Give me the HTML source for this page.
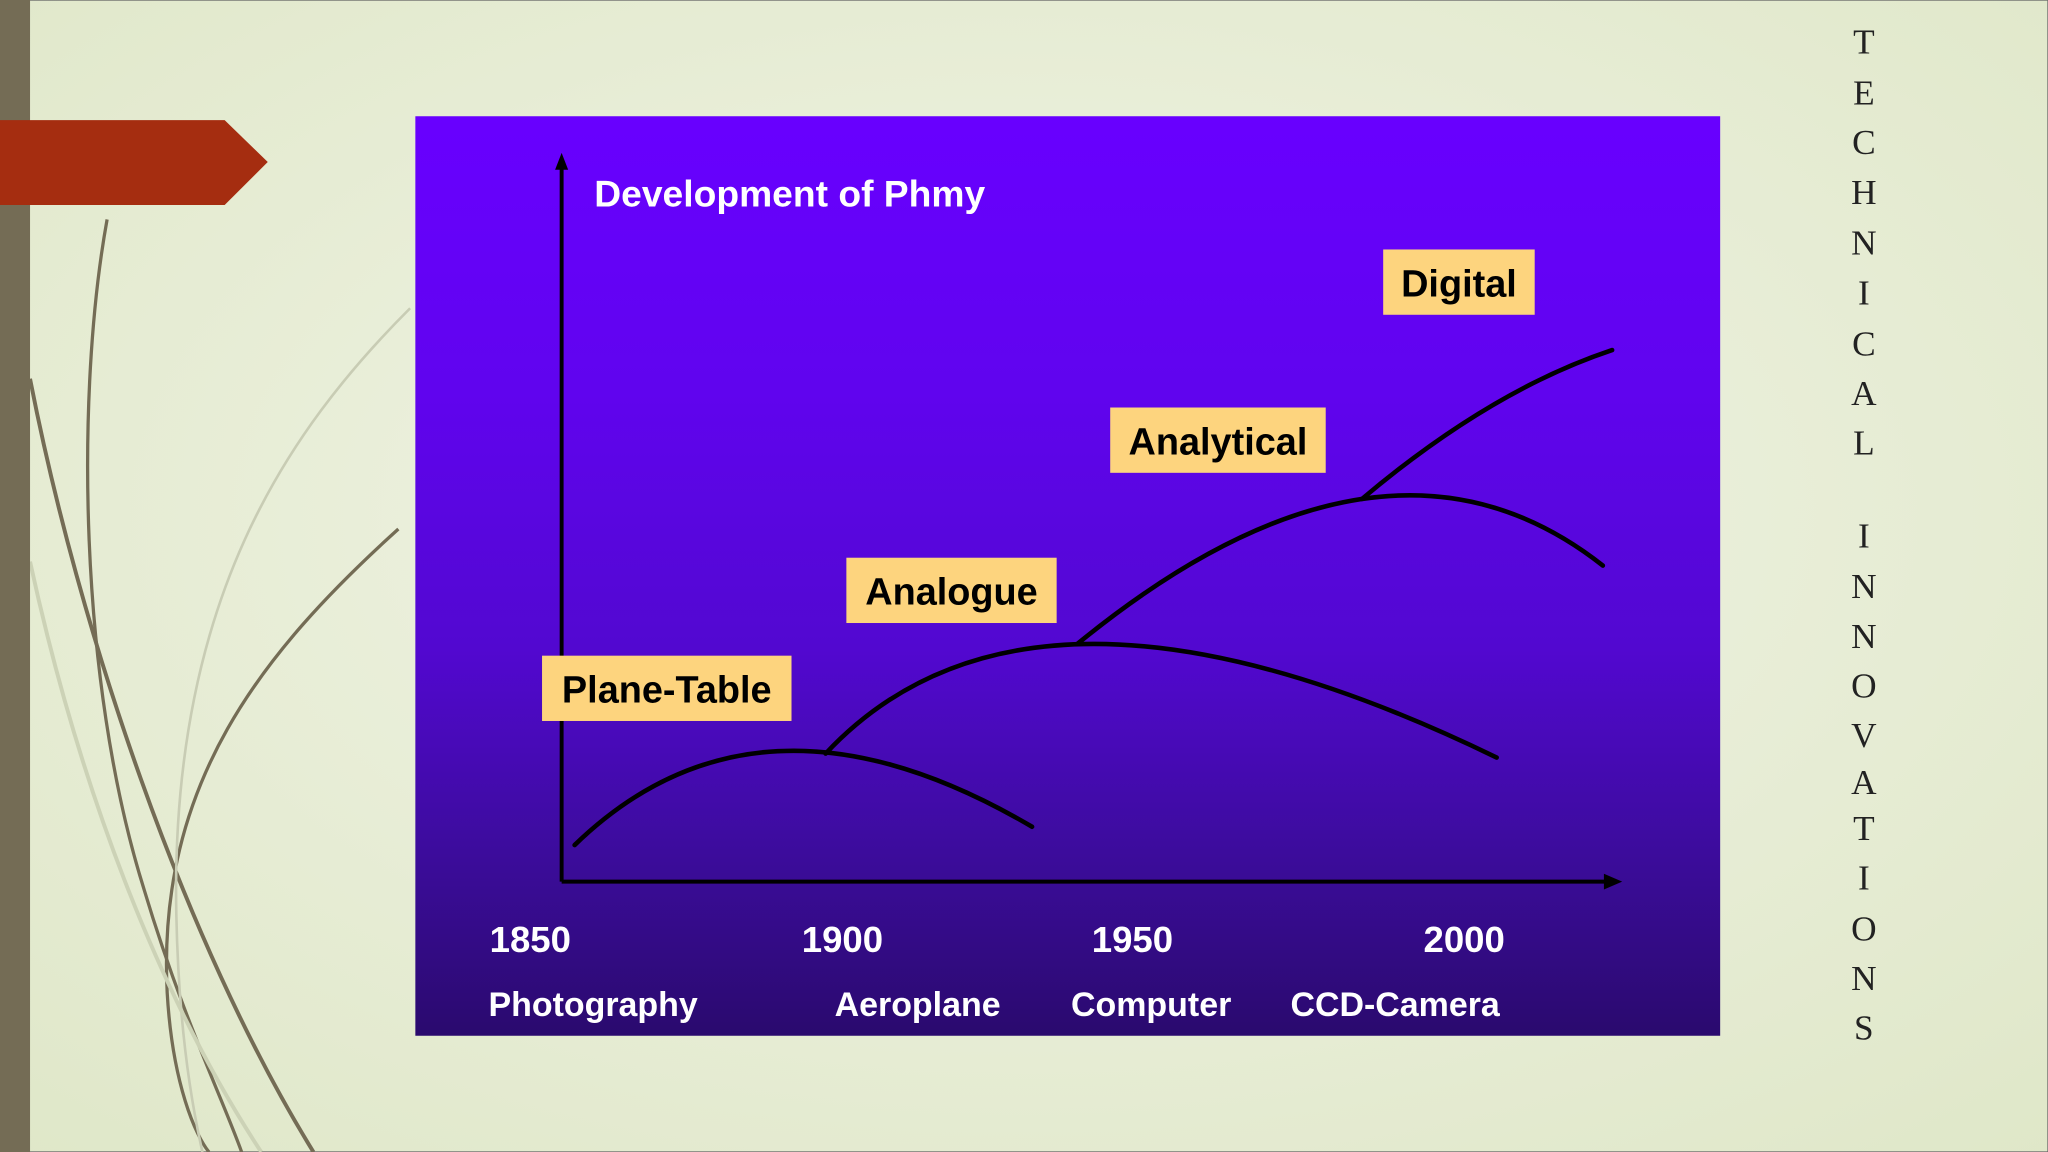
<!DOCTYPE html>
<html><head><meta charset="utf-8"><style>
html,body{margin:0;padding:0;width:2048px;height:1152px;overflow:hidden;}
svg{display:block;}
</style></head><body>
<svg width="2048" height="1152" viewBox="0 0 1568 882" xmlns="http://www.w3.org/2000/svg">
<defs>
<radialGradient id="bg" cx="0.5" cy="0.45" r="0.75">
<stop offset="0" stop-color="#f1f4e6"/><stop offset="1" stop-color="#dfe7c8"/>
</radialGradient>
<linearGradient id="blue" x1="0" y1="0" x2="0" y2="1">
<stop offset="0" stop-color="#6800ff"/>
<stop offset="0.3" stop-color="#6004ee"/>
<stop offset="0.58" stop-color="#5208d0"/>
<stop offset="0.8" stop-color="#3c0c9c"/>
<stop offset="1" stop-color="#2a0a6e"/>
</linearGradient>
</defs>
<rect width="1568" height="882" fill="url(#bg)"/>
<rect x="0" y="0" width="1568" height="882" fill="none" stroke="#666" stroke-width="1"/>
<g fill="none" stroke="#746c55">
<path d="M82,168 C58,300 60,520 110,680 C140,780 170,840 185,882" stroke-width="2.5"/>
<path d="M23,290 C60,480 140,720 240,882" stroke-width="3"/>
<path d="M305,405 C200,500 120,600 128,760 C132,830 150,870 160,882" stroke-width="2.5"/>
<path d="M314,236 C220,330 130,460 135,700 C137,800 150,860 155,882" stroke="#c8ccb4" stroke-width="2"/>
<path d="M23,430 C60,600 120,760 200,882" stroke="#ccd2b6" stroke-width="3"/>
</g>
<rect x="0" y="0" width="23" height="882" fill="#746c55"/>
<polygon points="0,92 172,92 205,124 172,157 0,157" fill="#a52d10"/>
<rect x="318" y="89" width="999" height="704" fill="url(#blue)"/>
<g id="chart"></g>
<text x="455" y="158" font-family="Liberation Sans, sans-serif" font-weight="bold" font-size="28.5" fill="#fff">Development of Phmy</text>
<g id="vert" font-family="Liberation Serif, serif" font-size="27" fill="#222" text-anchor="middle"></g>
</svg>
<script>
const years = [1850, 1900, 1950, 2000];
const inventions = ["Photography", "Aeroplane", "Computer", "CCD-Camera"];
const inventionX = [374, 639, 820, 988];
const stageNames = ["Plane-Table", "Analogue", "Analytical", "Digital"];
const stageStart = [[1857.1, 5.6], [1897.3, 19.6], [1940.5, 36.4], [1984.6, 58.6]];
const stagePeak = [[1890.2, 20], [1943.9, 36.4], [1984.6, 58.6], [2003.7, 72.6]];
const stageEnd = [[1932.7, 8.4], [2004.9, 19], [2020.9, 48.4], [2022.3, 81.4]];
const labelBox = [[415, 502, 191], [648, 427, 161], [850, 312, 165], [1059, 191, 116]];

const NS = "http://www.w3.org/2000/svg";
// piecewise-linear year axis (reference axis is not uniformly spaced)
const knotYears = [1850, 1900, 1950, 2000];
const knotX = [406, 645, 867, 1121];
function xs(y) {
  let i = 0;
  if (y >= knotYears[2]) i = 2; else if (y >= knotYears[1]) i = 1;
  return knotX[i] + (y - knotYears[i]) * (knotX[i + 1] - knotX[i]) / (knotYears[i + 1] - knotYears[i]);
}
const ys = v => 675 - v * 5;
const g = document.getElementById("chart");
function mk(tag, attrs, parent) {
  const e = document.createElementNS(NS, tag);
  for (const k in attrs) e.setAttribute(k, attrs[k]);
  (parent || g).appendChild(e);
  return e;
}
let ax = mk("path", {d: "M430,675 L430,122 M430,675 L1234,675", stroke: "#000", "stroke-width": 3, fill: "none"});


let ah = mk("path", {d: "M425,130 L430,117 L435,130 Z M1228,669 L1242,675 L1228,681 Z", fill: "#000"});


for (let i = 0; i < stageNames.length; i++) {
  const S = [xs(stageStart[i][0]), ys(stageStart[i][1])];
  const P = [xs(stagePeak[i][0]), ys(stagePeak[i][1])];
  const E = [xs(stageEnd[i][0]), ys(stageEnd[i][1])];
  const C = [2 * P[0] - (S[0] + E[0]) / 2, 2 * P[1] - (S[1] + E[1]) / 2];
  const p = mk("path", {d: `M${S[0]},${S[1]} Q${C[0]},${C[1]} ${E[0]},${E[1]}`, stroke: "#000", "stroke-width": 3.5, fill: "none", "stroke-linecap": "round"});
  
  
}
for (let i = 0; i < stageNames.length; i++) {
  const b = labelBox[i];
  const r = mk("rect", {x: b[0], y: b[1], width: b[2], height: 50, fill: "#fdd47e"});
  
  
  const t = mk("text", {x: b[0] + b[2] / 2, y: b[1] + 36, "text-anchor": "middle", "font-family": "Liberation Sans, sans-serif", "font-weight": "bold", "font-size": 29, fill: "#000"});
  t.textContent = stageNames[i];
  
  
}
for (let i = 0; i < years.length; i++) {
  const t = mk("text", {x: xs(years[i]), y: 729, "text-anchor": "middle", "font-family": "Liberation Sans, sans-serif", "font-weight": "bold", "font-size": 28, fill: "#fff"});
  t.textContent = years[i];
  
  
}
for (let i = 0; i < inventions.length; i++) {
  const t = mk("text", {x: inventionX[i], y: 778, "font-family": "Liberation Sans, sans-serif", "font-weight": "bold", "font-size": 26, fill: "#fff"});
  t.textContent = inventions[i];
  
  
}
const letters = "TECHNICAL INNOVATIONS".split("");
const lettersY = [41,80,118,156,195,233,272,310,348,null,419,458,496,534,572,608,643,681,720,758,796];
const vg = document.getElementById("vert");
letters.forEach((c, i) => {
  if (c === " ") return;
  const t = mk("text", {x: 1427, y: lettersY[i]}, vg);
  t.textContent = c;
  
  
});
</script>
</body></html>
